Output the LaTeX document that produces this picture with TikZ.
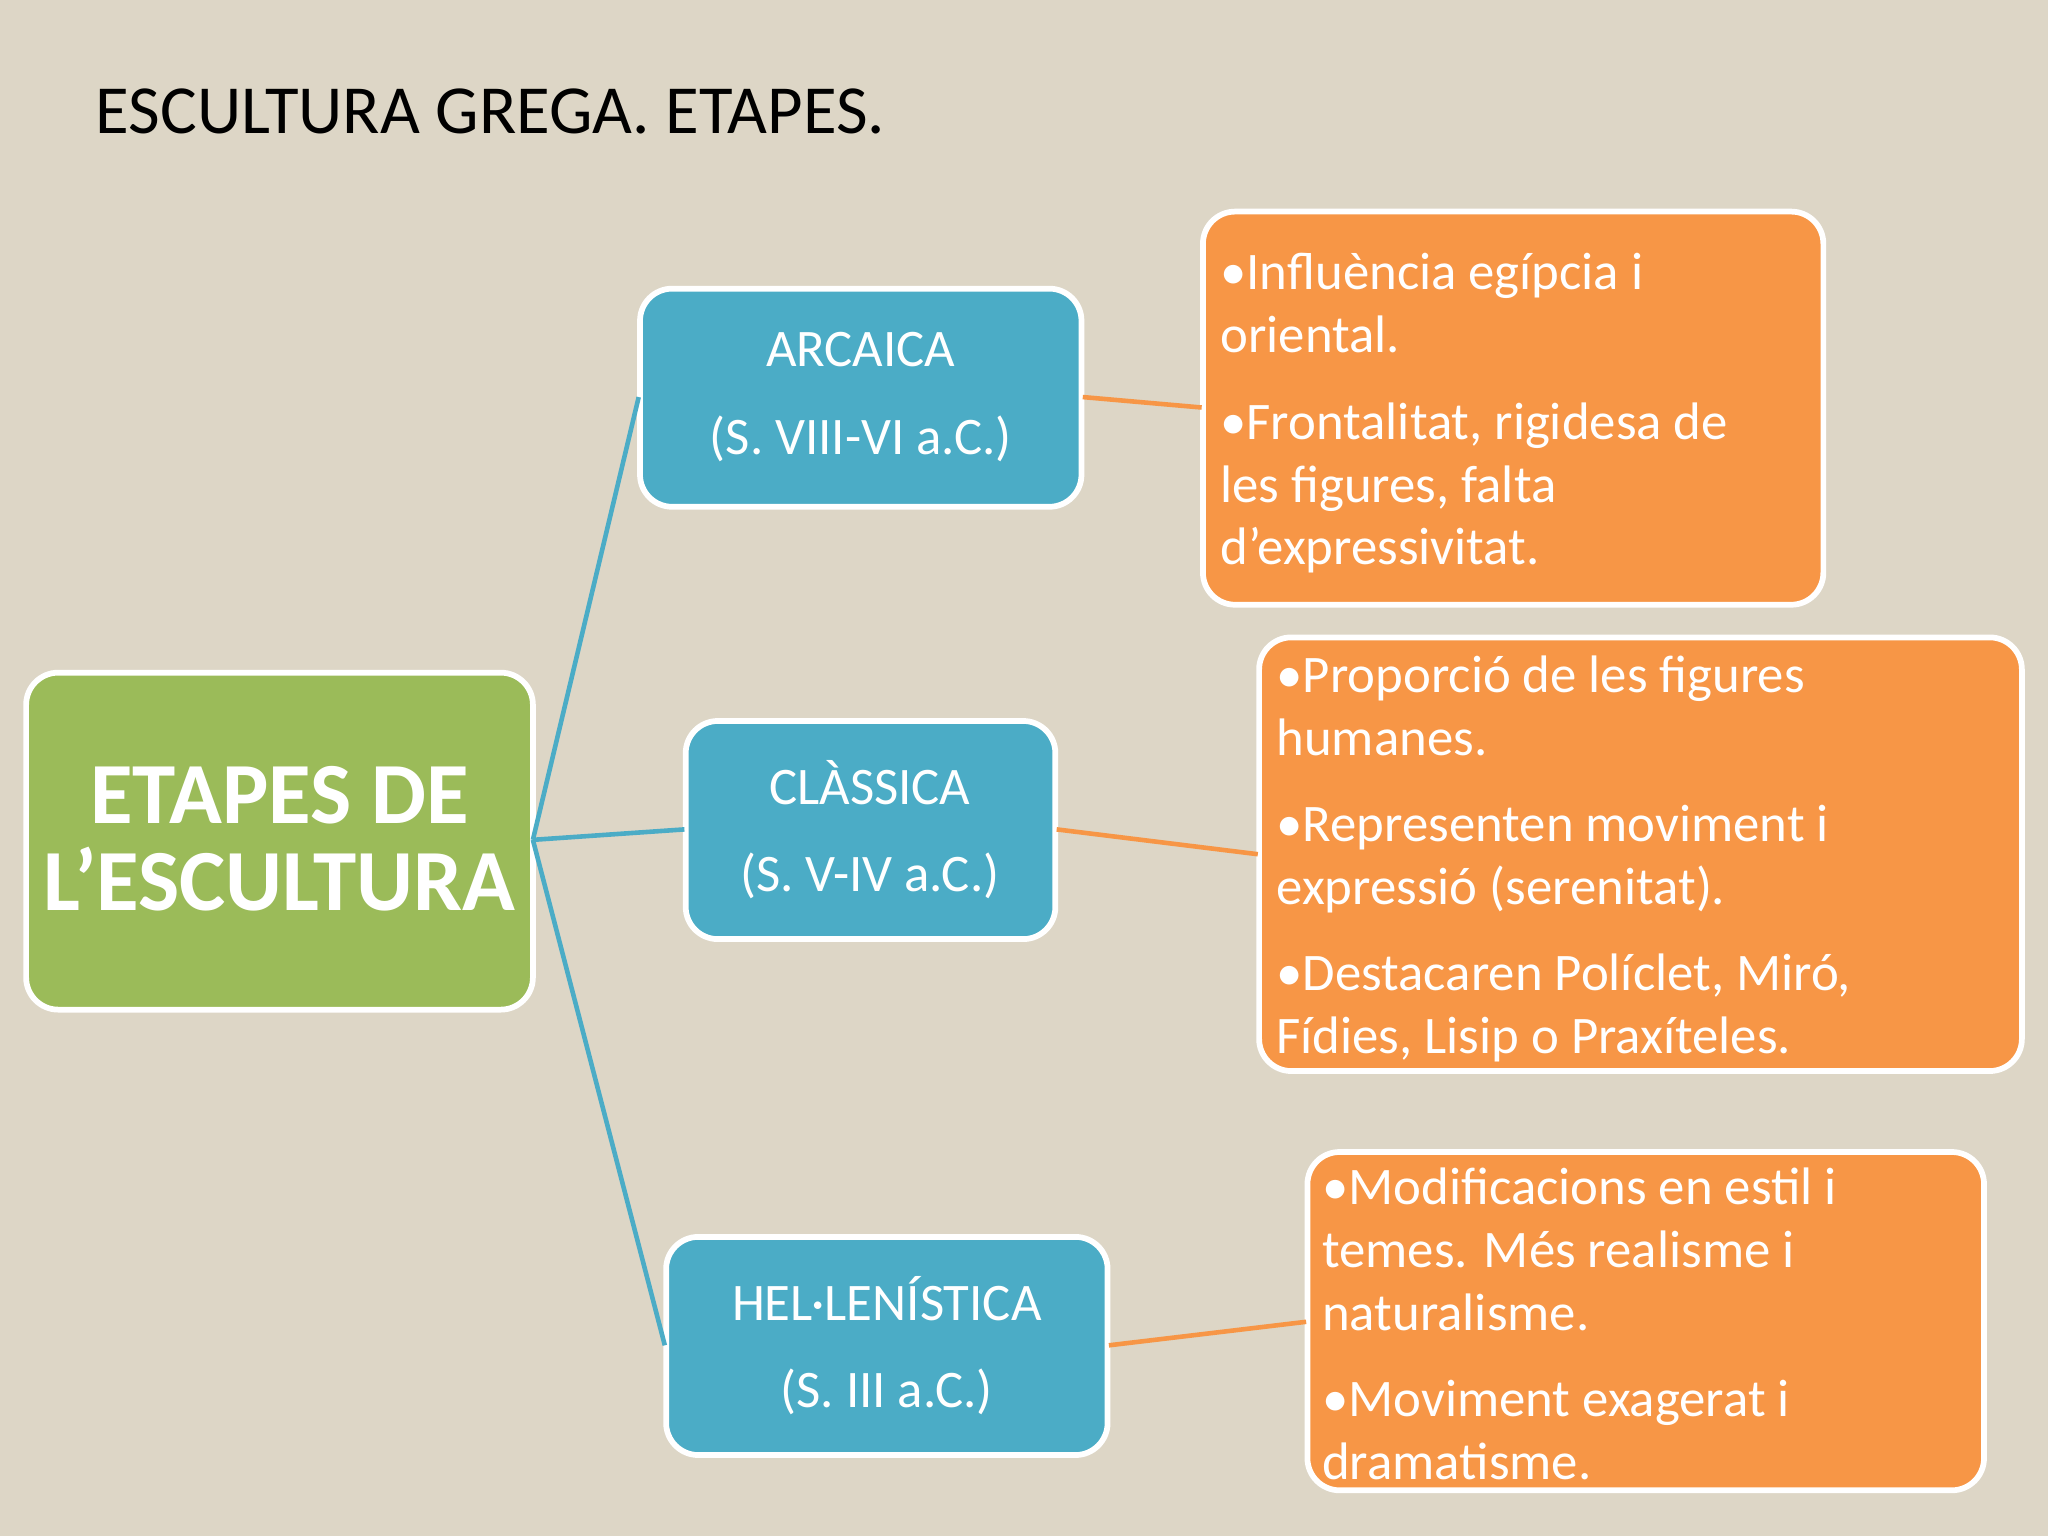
\documentclass[tikz,border=0pt]{standalone}
\usepackage{fontspec}
\setmainfont{Carlito}
\definecolor{bg}{HTML}{DDD6C6}
\definecolor{gr}{HTML}{9BBB59}
\definecolor{bl}{HTML}{4BACC6}
\definecolor{orf}{HTML}{F79646}
\begin{document}
\begin{tikzpicture}[x=0.02cm,y=-0.02cm,
  box/.style={draw=white,line width=2.5pt,rounded corners=14pt},
  bluet/.style={font=\fontsize{23}{38}\selectfont,text=white,align=center},
  oret/.style={font=\fontsize{23}{27.4}\selectfont,text=white,anchor=base west,inner sep=0,text width=#1,align=flush left},
  bline/.style={draw=bl,line width=2pt},
  oline/.style={draw=orf,line width=2pt}]
\useasboundingbox (0,0) rectangle (1568,1176);
\fill[bg] (0,0) rectangle (1568,1176);
\node[anchor=base west,inner sep=0,font=\fontsize{30}{36}\selectfont] (title) at (73,102) {ESCULTURA GREGA. ETAPES.};
% boxes
\path[box,fill=gr] (20,515) rectangle (408,773);
\coordinate (gE) at (408,643);
\node[font=\bfseries\fontsize{38}{38}\selectfont,text=white,align=center] (g) at (214,642) {ETAPES DE\\L’ESCULTURA};
\path[box,fill=bl] (490,221) rectangle (828,388);
\node[bluet] (a) at (659,304) {ARCAICA\\(S. VIII-VI a.C.)};
\path[box,fill=bl] (525,552) rectangle (808,719);
\node[bluet] (c) at (666,635) {CLÀSSICA\\(S. V-IV a.C.)};
\path[box,fill=bl] (510,947) rectangle (848,1114);
\node[bluet] (h) at (679,1030) {HEL·LENÍSTICA\\(S. III a.C.)};
\path[box,fill=orf] (921,162) rectangle (1396,463);
\path[box,fill=orf] (964,488) rectangle (1548,820);
\path[box,fill=orf] (1001,882) rectangle (1519,1141);
\coordinate (aW) at (489,304); \coordinate (aE) at (829,304);
\coordinate (cW) at (524,635); \coordinate (cE) at (809,635);
\coordinate (hW) at (509,1030); \coordinate (hE) at (849,1030);
\coordinate (o1) at (920,312); \coordinate (o2) at (963,654); \coordinate (o3) at (1000,1012);
\draw[bline] (gE) -- (aW); \draw[bline] (gE) -- (cW); \draw[bline] (gE) -- (hW);
\draw[oline] (aE) -- (o1); \draw[oline] (cE) -- (o2); \draw[oline] (hE) -- (o3);
\node[oret=9cm] (t1) at (934,222) {•Influència egípcia i\\oriental.\\[0.36cm]•Frontalitat, rigidesa de\\les figures, falta\\d’expressivitat.};
\node[oret=10cm] (t2) at (977,530) {•Proporció de les figures\\humanes.\\[0.36cm]•Representen moviment i\\expressió (serenitat).\\[0.36cm]•Destacaren Políclet, Miró,\\Fídies, Lisip o Praxíteles.};
\node[oret=9.5cm] (t3) at (1012,922) {•Modificacions en estil i\\temes. Més realisme i\\naturalisme.\\[0.36cm]•Moviment exagerat i\\dramatisme.};
\end{tikzpicture}
\end{document}
